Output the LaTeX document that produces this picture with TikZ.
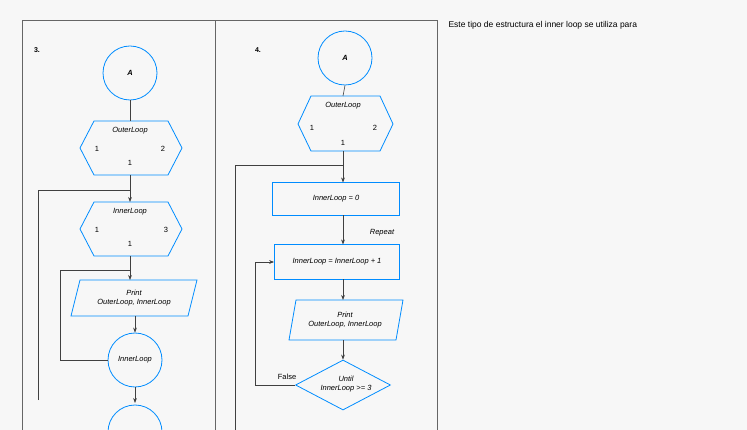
\documentclass[tikz,border=0pt]{standalone}
\usepackage{fontspec}
\setmainfont{Liberation Sans}
\usetikzlibrary{shapes.geometric,arrows.meta}
\begin{document}
\begin{tikzpicture}[x=1pt,y=-1pt,
 ln/.style={draw=black!75,line width=0.6pt},
 blue/.style={draw=blue!45!cyan,line width=0.8pt},
 arr/.style={ln,-{Stealth[length=5pt]}},
 t/.style={font=\itshape\fontsize{7.5}{9}\selectfont,inner sep=0pt},
 n/.style={font=\fontsize{7.5}{9}\selectfont,inner sep=0pt}]
\fill[black!3] (0,0) rectangle (747,430);
\useasboundingbox (0,0) rectangle (747,430);
\draw[black!60,line width=0.8pt] (22,20) rectangle (215,432);
\draw[black!60,line width=0.8pt] (215,20) rectangle (437,432);
\node[anchor=west,font=\fontsize{8.5}{10}\selectfont] (txt) at (445,25) {Este tipo de estructura el inner loop se utiliza para};
% panel 3
\node[n,font=\bfseries\fontsize{7}{8}\selectfont] (l3) at (37,50) {3.};
\node[circle,blue,minimum size=54pt,t] (a3) at (130,73) {\bfseries A};
\draw[blue] (80,148)--(94,121)--(168,121)--(182,148)--(168,175)--(94,175)--cycle;
\node[t] (o3) at (130,131) {OuterLoop};
\node[n] (o31) at (97,149) {1}; \node[n] (o32) at (163,149) {2}; \node[n] (o33) at (130,163) {1};
\draw[blue] (80,229)--(94,202)--(168,202)--(182,229)--(168,256)--(94,256)--cycle;
\node[t] (i3) at (130,212) {InnerLoop};
\node[n] (i31) at (97,230) {1}; \node[n] (i32) at (166,230) {3}; \node[n] (i33) at (130,244) {1};
\draw[blue] (80,280)--(197,280)--(188,316)--(71,316)--cycle;
\node[t,align=center] (p3) at (134,298) {Print\\OuterLoop, InnerLoop};
\node[circle,blue,minimum size=54pt,t] (c3) at (135,360) {InnerLoop};
\draw[blue] (108,432) arc (180:360:27);
\coordinate (j1) at (130,190); \coordinate (j2) at (130,270);
\draw[ln] (a3.south)--(130,121);
\draw[ln] (130,175)--(j1); \draw[arr] (j1)--(130,202);
\draw[ln] (130,256)--(j2); \draw[arr] (j2)--(130,280);
\draw[arr] (135,316)--(c3.north);
\draw[arr] (c3.south)--(135,403);
\draw[ln] (c3.west)--(60,360)--(60,270)--(j2);
\draw[ln] (38,400)--(38,190)--(j1);
% panel 4
\node[n,font=\bfseries\fontsize{7}{8}\selectfont] (l4) at (258,50) {4.};
\node[circle,blue,minimum size=54pt,t] (a4) at (345,58) {\bfseries A};
\draw[blue] (298,124)--(311,96)--(380,96)--(393,124)--(380,151)--(311,151)--cycle;
\node[t] (o4) at (343,106) {OuterLoop};
\node[n] (o41) at (312,128) {1}; \node[n] (o42) at (375,128) {2}; \node[n] (o43) at (343,143) {1};
\node[draw=blue!45!cyan,line width=0.8pt,minimum width=127pt,minimum height=33pt,t] (r1) at (336,199) {InnerLoop = 0};
\node[t] (rep) at (382,233) {Repeat};
\node[draw=blue!45!cyan,line width=0.8pt,minimum width=125pt,minimum height=35pt,t] (r2) at (337,262) {InnerLoop = InnerLoop + 1};
\draw[blue] (296,300)--(403,300)--(396,340)--(289,340)--cycle;
\node[t,align=center] (p4) at (345,320) {Print\\OuterLoop, InnerLoop};
\node[diamond,blue,minimum width=95pt,minimum height=50pt,aspect=2.2,inner sep=0pt] (d4) at (343,385) {};
\node[t,align=center] (dt) at (346,384) {Until\\InnerLoop >= 3};
\node[n] (fl) at (287,377) {False};
\coordinate (j3) at (343,165); \coordinate (j4) at (343,240);
\draw[ln] (a4.south)--(343,96);
\draw[ln] (343,151)--(j3); \draw[arr] (j3)--(343,182.5);
\draw[ln] (343,215.5)--(j4); \draw[arr] (j4)--(343,244.5);
\draw[arr] (343,279.5)--(343,300);
\draw[arr] (343,340)--(d4.north);
\draw[ln] (235,430)--(235,165)--(j3);
\draw[arr] (d4.west)--(255,385)--(255,262)--(r2.west);
\end{tikzpicture}
\end{document}
